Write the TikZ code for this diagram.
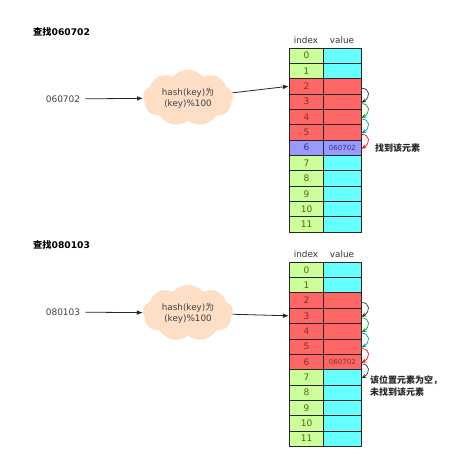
\documentclass[tikz,border=0pt]{standalone}
\usepackage{fontspec}
\setmainfont{DejaVu Sans}
\newfontfamily\cjk{Noto Sans CJK SC}
\usetikzlibrary{shapes.symbols,arrows.meta}
\definecolor{gfill}{HTML}{CCFF99}
\definecolor{gtext}{HTML}{4A6B1E}
\definecolor{cfill}{HTML}{66FFFF}
\definecolor{rfill}{HTML}{FF6666}
\definecolor{rtext}{HTML}{8B2D2D}
\definecolor{bfill}{HTML}{9999FF}
\definecolor{btext}{HTML}{333380}
\definecolor{cloudfill}{HTML}{FFDEC6}
\definecolor{arcgreen}{HTML}{00A020}
\definecolor{arcteal}{HTML}{0099AA}
\definecolor{arcred}{HTML}{EE1111}
\definecolor{arcdark}{HTML}{333333}
\tikzset{
  cell/.style={draw=black!85,line width=0.7pt,minimum width=34.35pt,minimum height=15.36pt,inner sep=0pt,anchor=north west,font=\fontsize{9}{10}\selectfont},
  gi/.style={fill=gfill,text=gtext},
  gv/.style={fill=cfill},
  ri/.style={fill=rfill,text=rtext},
  rv/.style={fill=rfill,text=rtext,font=\fontsize{7}{8}\selectfont},
  bi/.style={fill=bfill,text=btext},
  bv/.style={fill=bfill,text=btext,font=\fontsize{7}{8}\selectfont},
  hdr/.style={font=\fontsize{8.8}{10}\selectfont,text=black!80},
  title/.style={font=\fontsize{9.2}{11}\selectfont\bfseries,anchor=west,inner sep=0pt},
  keylab/.style={font=\fontsize{9}{10}\selectfont,text=black!75,inner sep=5pt},
  hcloud/.style={cloud,cloud puffs=9,cloud puff arc=100,aspect=1.55,fill=cloudfill,draw=none,minimum width=90pt,minimum height=56pt,align=center,font=\fontsize{8.8}{10.5}\selectfont,text=black!75,inner sep=0pt},
  arr/.style={-{Latex[length=6pt,width=4.5pt]},line width=0.8pt,black!85},
  arc/.style={-{Stealth[length=5pt,width=4pt]},line width=0.7pt},
  note/.style={font=\fontsize{9}{12}\selectfont\bfseries,anchor=west,align=left,inner sep=0pt,text=black!85}
}
\begin{document}
\begin{tikzpicture}[x=1pt,y=-1pt]
\useasboundingbox (0,0) rectangle (474,474);
% ---------- first lookup ----------
\node[title] (title1) at (33,32) {{\cjk 查找}060702};
\node[hdr] (h1i) at (306,40) {index};
\node[hdr] (h1v) at (342,40) {value};
\foreach \r/\ic/\vc/\v in {0/gi/gv/{},1/gi/gv/{},2/ri/rv/{},3/ri/rv/{},4/ri/rv/{},5/ri/rv/{},6/bi/bv/060702,7/gi/gv/{},8/gi/gv/{},9/gi/gv/{},10/gi/gv/{},11/gi/gv/{}}{
  \node[cell,\ic] (t1i\r) at (289,{47.5+\r*15.36}) {\r};
  \node[cell,\vc,minimum width=37.4pt] (t1v\r) at (323.3,{47.5+\r*15.36}) {\v};
}
\node[keylab] (in1) at (63,99) {060702};
\node[hcloud] (cl1) at (188,98) {hash(key){\cjk 为}\\(key)\%100};
\draw[arr] (in1) -- (cl1);
\draw[arr] (cl1) -- (t1i2.west);
\draw[arc,arcdark] ([yshift=-2pt]t1v2.east) .. controls +(9,0) and +(9,-5) .. ([yshift=-1pt]t1v3.east);
\draw[arc,arcgreen] ([yshift=-2pt]t1v3.east) .. controls +(9,0) and +(9,-5) .. ([yshift=-1pt]t1v4.east);
\draw[arc,arcteal] ([yshift=-2pt]t1v4.east) .. controls +(9,0) and +(9,-5) .. ([yshift=-1pt]t1v5.east);
\draw[arc,arcred] ([yshift=-2pt]t1v5.east) .. controls +(9,0) and +(9,-5) .. ([yshift=-1pt]t1v6.east);
\node[note] (found) at (375,148) {\cjk 找到该元素};
% ---------- second lookup ----------
\node[title] (title2) at (33,245) {{\cjk 查找}080103};
\node[hdr] (h2i) at (306,254) {index};
\node[hdr] (h2v) at (342,254) {value};
\foreach \r/\ic/\vc/\v in {0/gi/gv/{},1/gi/gv/{},2/ri/rv/{},3/ri/rv/{},4/ri/rv/{},5/ri/rv/{},6/ri/rv/060702,7/gi/gv/{},8/gi/gv/{},9/gi/gv/{},10/gi/gv/{},11/gi/gv/{}}{
  \node[cell,\ic] (t2i\r) at (289,{261.7+\r*15.36}) {\r};
  \node[cell,\vc,minimum width=37.4pt] (t2v\r) at (323.3,{261.7+\r*15.36}) {\v};
}
\node[keylab] (in2) at (63,312) {080103};
\node[hcloud] (cl2) at (188,313) {hash(key){\cjk 为}\\(key)\%100};
\draw[arr] (in2) -- (cl2);
\draw[arr] (cl2) -- (t2i3.west);
\draw[arc,arcdark] ([yshift=-2pt]t2v2.east) .. controls +(9,0) and +(9,-5) .. ([yshift=-1pt]t2v3.east);
\draw[arc,arcgreen] ([yshift=-2pt]t2v3.east) .. controls +(9,0) and +(9,-5) .. ([yshift=-1pt]t2v4.east);
\draw[arc,arcteal] ([yshift=-2pt]t2v4.east) .. controls +(9,0) and +(9,-5) .. ([yshift=-1pt]t2v5.east);
\draw[arc,arcred] ([yshift=-2pt]t2v5.east) .. controls +(9,0) and +(9,-5) .. ([yshift=-1pt]t2v6.east);
\draw[arc,arcdark] ([yshift=-2pt]t2v6.east) .. controls +(9,0) and +(9,-5) .. ([yshift=-1pt]t2v7.east);
\node[note] (notfound) at (370,386) {\cjk 该位置元素为空，\\\cjk 未找到该元素};
\end{tikzpicture}
\end{document}
